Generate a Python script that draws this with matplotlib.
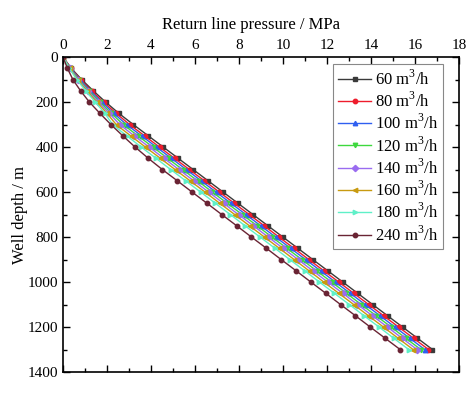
import matplotlib
matplotlib.use("Agg")
import matplotlib.pyplot as plt
from matplotlib.ticker import MultipleLocator

plt.rcParams['font.family'] = ['Liberation Serif', 'DejaVu Serif']
plt.rcParams['mathtext.fontset'] = 'custom'
plt.rcParams['mathtext.rm'] = 'Liberation Serif'

depth = [0, 50, 100, 150, 200, 250, 300, 350, 400, 450, 500, 550, 600, 650,
         700, 750, 800, 850, 900, 950, 1000, 1050, 1100, 1150, 1200, 1250, 1300]

p60 = [0, 0.38, 0.85, 1.38, 1.94, 2.54, 3.2, 3.88, 4.56, 5.24, 5.92, 6.6, 7.28, 7.96,
       8.64, 9.32, 10.0, 10.68, 11.36, 12.04, 12.72, 13.4, 14.08, 14.76, 15.44, 16.12, 16.8]
p80 = [0, 0.36, 0.8, 1.3, 1.84, 2.42, 3.03, 3.71, 4.39, 5.07, 5.75, 6.43, 7.11, 7.79,
       8.47, 9.15, 9.82, 10.5, 11.18, 11.86, 12.54, 13.22, 13.9, 14.58, 15.26, 15.94, 16.62]
p100 = [0, 0.34, 0.76, 1.24, 1.76, 2.31, 2.89, 3.57, 4.25, 4.93, 5.61, 6.28, 6.96, 7.64,
        8.32, 8.99, 9.67, 10.35, 11.03, 11.71, 12.38, 13.06, 13.74, 14.42, 15.09, 15.77, 16.45]
p120 = [0, 0.32, 0.72, 1.18, 1.68, 2.2, 2.74, 3.41, 4.09, 4.76, 5.44, 6.12, 6.79, 7.47,
        8.15, 8.83, 9.5, 10.18, 10.86, 11.53, 12.21, 12.89, 13.56, 14.24, 14.92, 15.59, 16.27]
p140 = [0, 0.31, 0.69, 1.13, 1.61, 2.1, 2.58, 3.24, 3.92, 4.59, 5.27, 5.95, 6.62, 7.3,
        7.98, 8.66, 9.33, 10.01, 10.69, 11.36, 12.04, 12.72, 13.39, 14.07, 14.75, 15.42, 16.1]
p160 = [0, 0.3, 0.66, 1.08, 1.54, 2.0, 2.42, 3.08, 3.75, 4.43, 5.1, 5.78, 6.46, 7.13,
        7.81, 8.48, 9.16, 9.84, 10.51, 11.19, 11.86, 12.54, 13.22, 13.89, 14.57, 15.24, 15.92]
p180 = [0, 0.29, 0.63, 1.03, 1.47, 1.9, 2.26, 2.9, 3.56, 4.23, 4.9, 5.58, 6.26, 6.93,
        7.61, 8.28, 8.96, 9.64, 10.31, 10.99, 11.66, 12.34, 13.02, 13.69, 14.37, 15.04, 15.72]
p240 = [0, 0.2, 0.45, 0.8, 1.2, 1.68, 2.18, 2.72, 3.28, 3.88, 4.52, 5.2, 5.87, 6.55,
        7.22, 7.9, 8.57, 9.25, 9.92, 10.6, 11.27, 11.95, 12.62, 13.3, 13.97, 14.65, 15.33]

labels = ['60 m$^3$/h', '80 m$^3$/h', '100 m$^3$/h', '120 m$^3$/h',
          '140 m$^3$/h', '160 m$^3$/h', '180 m$^3$/h', '240 m$^3$/h']
series = [p60, p80, p100, p120, p140, p160, p180, p240]
colors = ['#3a3a3a', '#ee1c2c', '#2f5ff0', '#3ed83e', '#9a6cf0', '#c89a10', '#5ff0c8', '#6a2434']
markers = ['s', 'o', '^', 'v', 'D', '<', '>', 'o']

fig = plt.figure(figsize=(4.74, 3.97), dpi=100)
ax = fig.add_axes([0.133, 0.063, 0.835, 0.793])

for p, lab, c, m in zip(series, labels, colors, markers):
    ax.plot(p, depth, color=c, marker=m, markersize=3.2, linewidth=1.0, label=lab)

ax.set_xlim(0, 18)
ax.set_ylim(1400, 0)
ax.xaxis.set_major_locator(MultipleLocator(2))
ax.xaxis.set_minor_locator(MultipleLocator(1))
ax.yaxis.set_major_locator(MultipleLocator(200))
ax.yaxis.set_minor_locator(MultipleLocator(100))
ax.xaxis.tick_top()
ax.xaxis.set_label_position('top')
ax.tick_params(which='both', direction='in', top=True, bottom=True, left=True, right=True,
               labeltop=True, labelbottom=False, labelsize=11, width=1.0)
ax.tick_params(which='major', length=5)
ax.tick_params(which='minor', length=3)
for s in ax.spines.values():
    s.set_linewidth(1.2)

ax.set_xlabel('Return line pressure / MPa', fontsize=12)
ax.xaxis.set_label_coords(0.475, 1.09)
ax.set_ylabel('Well depth / m', fontsize=12, labelpad=0)

leg = ax.legend(loc='upper right', bbox_to_anchor=(0.96, 0.978), fontsize=12,
                handlelength=2.0, handletextpad=0.2, labelspacing=0.18,
                borderpad=0.3, borderaxespad=0, fancybox=False, framealpha=1,
                edgecolor='#888888')
leg.get_frame().set_linewidth(0.8)

fig.savefig('out.png', dpi=100)
